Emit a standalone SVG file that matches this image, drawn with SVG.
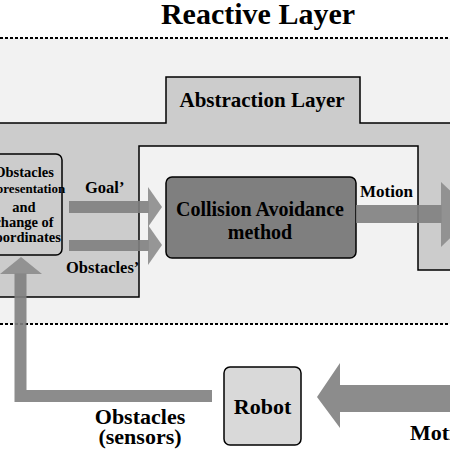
<svg xmlns="http://www.w3.org/2000/svg" width="450" height="450" viewBox="0 0 450 450">
<style>
text{font-family:"Liberation Serif","Times New Roman",serif;font-weight:bold;fill:#000}
.dot{stroke:#000;stroke-width:2;stroke-dasharray:3 2;fill:none}
.shaft{fill:#808080;opacity:0.9}
.head{fill:#8c8c8c;opacity:0.9}
.box{stroke:#000;stroke-width:1.5}
</style>
<rect x="0" y="0" width="450" height="450" fill="#ffffff"/>
<rect x="0" y="38" width="450" height="286" fill="#f2f2f2"/>
<line class="dot" x1="0" y1="38" x2="450" y2="38"/>
<line class="dot" x1="0" y1="324" x2="450" y2="324"/>
<text x="258" y="24" font-size="30" text-anchor="middle">Reactive Layer</text>
<g id="abstraction-layer">
<polygon points="-2,123 166,123 166,77 360,77 360,123 452,123 452,270 418,270 418,146 139,146 139,297 -2,297" fill="#cccccc" stroke="#000" stroke-width="1.5"/>
<text x="262" y="107" font-size="21" text-anchor="middle">Abstraction Layer</text>
</g>
<g id="obstacles-representation">
<rect class="box" x="-14" y="154" width="76" height="101" rx="6" fill="#cccccc"/>
<text font-size="14.5" text-anchor="middle"><tspan x="24" y="177">Obstacles</tspan><tspan x="25" y="193" font-size="13">representation</tspan><tspan x="24" y="212">and</tspan><tspan x="24" y="227">change of</tspan><tspan x="25" y="242">coordinates</tspan></text>
</g>
<g id="collision-avoidance">
<rect class="box" x="166" y="177" width="190" height="81" rx="6" fill="#7f7f7f"/>
<text x="260" y="216" font-size="20" text-anchor="middle">Collision Avoidance</text>
<text x="260" y="239" font-size="20" text-anchor="middle">method</text>
</g>
<g id="robot">
<rect class="box" x="224" y="367" width="77" height="78" rx="6" fill="#d9d9d9"/>
<text x="262.5" y="414" font-size="22" text-anchor="middle">Robot</text>
</g>
<g id="connectors">
<rect class="shaft" x="69" y="201" width="80" height="12"/>
<polygon class="head" points="148,187 162,207 148,227"/>
<rect class="shaft" x="69" y="240" width="80" height="11"/>
<polygon class="head" points="148,225 162,245 148,265"/>
<rect class="shaft" x="356" y="205" width="86" height="18"/>
<polygon class="head" points="441,182 475,214 441,247"/>
<polyline points="212,396 20.5,396 20.5,273" fill="none" stroke="#808080" stroke-width="12" opacity="0.9"/>
<polygon class="head" points="0,274 42,274 21,257"/>
<polygon class="shaft" points="317,397 340,363 340,385 452,385 452,412 340,412 340,428"/>
</g>
<g id="labels">
<text x="85" y="193" font-size="16.5">Goal’</text>
<text x="66" y="273" font-size="16.5">Obstacles’</text>
<text x="360" y="197" font-size="17">Motion</text>
<text x="140" y="424" font-size="22" text-anchor="middle">Obstacles</text>
<text x="140" y="444" font-size="22" text-anchor="middle">(sensors)</text>
<text x="410" y="440" font-size="22">Motion</text>
</g>
</svg>
